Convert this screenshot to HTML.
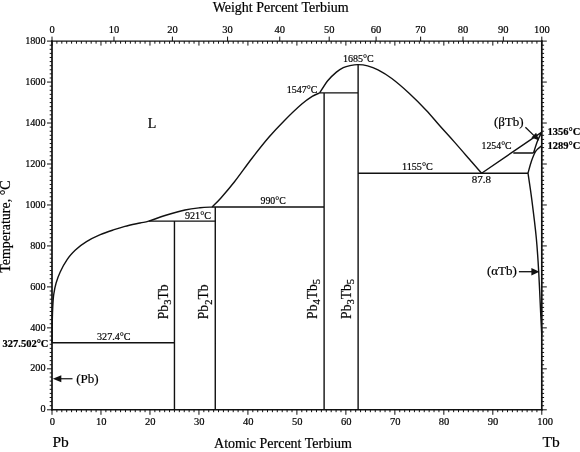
<!DOCTYPE html><html><head><meta charset="utf-8"><title>Pb-Tb Phase Diagram</title>
<style>html,body{margin:0;padding:0;background:#fff}body{width:580px;height:452px;overflow:hidden}svg{display:block}text{font-family:"Liberation Serif","DejaVu Serif",serif;fill:#000;stroke:#000;stroke-width:0.2px}</style></head><body>
<svg width="580" height="452" viewBox="0 0 580 452">
<rect width="580" height="452" fill="#fff"/>
<path d="M52.0 40.5V410.5M541.8 40.5V410.5" fill="none" stroke="#111" stroke-width="1.7"/>
<path d="M51.2 41.1H542.5999999999999" fill="none" stroke="#111" stroke-width="1.2"/>
<path d="M51.2 409.8H542.5999999999999" fill="none" stroke="#111" stroke-width="1.4"/>
<path d="M52.00 409.8v5 M52.00 41.1v4.5 M56.90 409.8v2.4 M56.90 41.1v2.6 M61.80 409.8v2.4 M61.80 41.1v2.6 M66.69 409.8v2.4 M66.69 41.1v2.6 M71.59 409.8v2.4 M71.59 41.1v2.6 M76.49 409.8v2.4 M76.49 41.1v2.6 M81.39 409.8v2.4 M81.39 41.1v2.6 M86.29 409.8v2.4 M86.29 41.1v2.6 M91.18 409.8v2.4 M91.18 41.1v2.6 M96.08 409.8v2.4 M96.08 41.1v2.6 M100.98 409.8v5 M100.98 41.1v4.5 M105.88 409.8v2.4 M105.88 41.1v2.6 M110.78 409.8v2.4 M110.78 41.1v2.6 M115.67 409.8v2.4 M115.67 41.1v2.6 M120.57 409.8v2.4 M120.57 41.1v2.6 M125.47 409.8v2.4 M125.47 41.1v2.6 M130.37 409.8v2.4 M130.37 41.1v2.6 M135.27 409.8v2.4 M135.27 41.1v2.6 M140.16 409.8v2.4 M140.16 41.1v2.6 M145.06 409.8v2.4 M145.06 41.1v2.6 M149.96 409.8v5 M149.96 41.1v4.5 M154.86 409.8v2.4 M154.86 41.1v2.6 M159.76 409.8v2.4 M159.76 41.1v2.6 M164.65 409.8v2.4 M164.65 41.1v2.6 M169.55 409.8v2.4 M169.55 41.1v2.6 M174.45 409.8v2.4 M174.45 41.1v2.6 M179.35 409.8v2.4 M179.35 41.1v2.6 M184.25 409.8v2.4 M184.25 41.1v2.6 M189.14 409.8v2.4 M189.14 41.1v2.6 M194.04 409.8v2.4 M194.04 41.1v2.6 M198.94 409.8v5 M198.94 41.1v4.5 M203.84 409.8v2.4 M203.84 41.1v2.6 M208.74 409.8v2.4 M208.74 41.1v2.6 M213.63 409.8v2.4 M213.63 41.1v2.6 M218.53 409.8v2.4 M218.53 41.1v2.6 M223.43 409.8v2.4 M223.43 41.1v2.6 M228.33 409.8v2.4 M228.33 41.1v2.6 M233.23 409.8v2.4 M233.23 41.1v2.6 M238.12 409.8v2.4 M238.12 41.1v2.6 M243.02 409.8v2.4 M243.02 41.1v2.6 M247.92 409.8v5 M247.92 41.1v4.5 M252.82 409.8v2.4 M252.82 41.1v2.6 M257.72 409.8v2.4 M257.72 41.1v2.6 M262.61 409.8v2.4 M262.61 41.1v2.6 M267.51 409.8v2.4 M267.51 41.1v2.6 M272.41 409.8v2.4 M272.41 41.1v2.6 M277.31 409.8v2.4 M277.31 41.1v2.6 M282.21 409.8v2.4 M282.21 41.1v2.6 M287.10 409.8v2.4 M287.10 41.1v2.6 M292.00 409.8v2.4 M292.00 41.1v2.6 M296.90 409.8v5 M296.90 41.1v4.5 M301.80 409.8v2.4 M301.80 41.1v2.6 M306.70 409.8v2.4 M306.70 41.1v2.6 M311.59 409.8v2.4 M311.59 41.1v2.6 M316.49 409.8v2.4 M316.49 41.1v2.6 M321.39 409.8v2.4 M321.39 41.1v2.6 M326.29 409.8v2.4 M326.29 41.1v2.6 M331.19 409.8v2.4 M331.19 41.1v2.6 M336.08 409.8v2.4 M336.08 41.1v2.6 M340.98 409.8v2.4 M340.98 41.1v2.6 M345.88 409.8v5 M345.88 41.1v4.5 M350.78 409.8v2.4 M350.78 41.1v2.6 M355.68 409.8v2.4 M355.68 41.1v2.6 M360.57 409.8v2.4 M360.57 41.1v2.6 M365.47 409.8v2.4 M365.47 41.1v2.6 M370.37 409.8v2.4 M370.37 41.1v2.6 M375.27 409.8v2.4 M375.27 41.1v2.6 M380.17 409.8v2.4 M380.17 41.1v2.6 M385.06 409.8v2.4 M385.06 41.1v2.6 M389.96 409.8v2.4 M389.96 41.1v2.6 M394.86 409.8v5 M394.86 41.1v4.5 M399.76 409.8v2.4 M399.76 41.1v2.6 M404.66 409.8v2.4 M404.66 41.1v2.6 M409.55 409.8v2.4 M409.55 41.1v2.6 M414.45 409.8v2.4 M414.45 41.1v2.6 M419.35 409.8v2.4 M419.35 41.1v2.6 M424.25 409.8v2.4 M424.25 41.1v2.6 M429.15 409.8v2.4 M429.15 41.1v2.6 M434.04 409.8v2.4 M434.04 41.1v2.6 M438.94 409.8v2.4 M438.94 41.1v2.6 M443.84 409.8v5 M443.84 41.1v4.5 M448.74 409.8v2.4 M448.74 41.1v2.6 M453.64 409.8v2.4 M453.64 41.1v2.6 M458.53 409.8v2.4 M458.53 41.1v2.6 M463.43 409.8v2.4 M463.43 41.1v2.6 M468.33 409.8v2.4 M468.33 41.1v2.6 M473.23 409.8v2.4 M473.23 41.1v2.6 M478.13 409.8v2.4 M478.13 41.1v2.6 M483.02 409.8v2.4 M483.02 41.1v2.6 M487.92 409.8v2.4 M487.92 41.1v2.6 M492.82 409.8v5 M492.82 41.1v4.5 M497.72 409.8v2.4 M497.72 41.1v2.6 M502.62 409.8v2.4 M502.62 41.1v2.6 M507.51 409.8v2.4 M507.51 41.1v2.6 M512.41 409.8v2.4 M512.41 41.1v2.6 M517.31 409.8v2.4 M517.31 41.1v2.6 M522.21 409.8v2.4 M522.21 41.1v2.6 M527.11 409.8v2.4 M527.11 41.1v2.6 M532.00 409.8v2.4 M532.00 41.1v2.6 M536.90 409.8v2.4 M536.90 41.1v2.6 M541.80 409.8v5 M541.80 41.1v4.5 M52.00 41.1v-4.5 M113.98 41.1v-4.5 M172.40 41.1v-4.5 M227.57 41.1v-4.5 M279.76 41.1v-4.5 M329.19 41.1v-4.5 M376.08 41.1v-4.5 M420.63 41.1v-4.5 M462.99 41.1v-4.5 M503.34 41.1v-4.5 M541.80 41.1v-4.5 M52.0 409.80h-5 M541.8 409.80h5 M52.0 405.70h-2.3 M541.8 405.70h2.3 M52.0 401.61h-2.3 M541.8 401.61h2.3 M52.0 397.51h-2.3 M541.8 397.51h2.3 M52.0 393.41h-2.3 M541.8 393.41h2.3 M52.0 389.32h-2.3 M541.8 389.32h2.3 M52.0 385.22h-2.3 M541.8 385.22h2.3 M52.0 381.12h-2.3 M541.8 381.12h2.3 M52.0 377.03h-2.3 M541.8 377.03h2.3 M52.0 372.93h-2.3 M541.8 372.93h2.3 M52.0 368.83h-5 M541.8 368.83h5 M52.0 364.74h-2.3 M541.8 364.74h2.3 M52.0 360.64h-2.3 M541.8 360.64h2.3 M52.0 356.54h-2.3 M541.8 356.54h2.3 M52.0 352.45h-2.3 M541.8 352.45h2.3 M52.0 348.35h-2.3 M541.8 348.35h2.3 M52.0 344.25h-2.3 M541.8 344.25h2.3 M52.0 340.16h-2.3 M541.8 340.16h2.3 M52.0 336.06h-2.3 M541.8 336.06h2.3 M52.0 331.96h-2.3 M541.8 331.96h2.3 M52.0 327.87h-5 M541.8 327.87h5 M52.0 323.77h-2.3 M541.8 323.77h2.3 M52.0 319.67h-2.3 M541.8 319.67h2.3 M52.0 315.58h-2.3 M541.8 315.58h2.3 M52.0 311.48h-2.3 M541.8 311.48h2.3 M52.0 307.38h-2.3 M541.8 307.38h2.3 M52.0 303.29h-2.3 M541.8 303.29h2.3 M52.0 299.19h-2.3 M541.8 299.19h2.3 M52.0 295.09h-2.3 M541.8 295.09h2.3 M52.0 291.00h-2.3 M541.8 291.00h2.3 M52.0 286.90h-5 M541.8 286.90h5 M52.0 282.80h-2.3 M541.8 282.80h2.3 M52.0 278.71h-2.3 M541.8 278.71h2.3 M52.0 274.61h-2.3 M541.8 274.61h2.3 M52.0 270.51h-2.3 M541.8 270.51h2.3 M52.0 266.42h-2.3 M541.8 266.42h2.3 M52.0 262.32h-2.3 M541.8 262.32h2.3 M52.0 258.22h-2.3 M541.8 258.22h2.3 M52.0 254.13h-2.3 M541.8 254.13h2.3 M52.0 250.03h-2.3 M541.8 250.03h2.3 M52.0 245.93h-5 M541.8 245.93h5 M52.0 241.84h-2.3 M541.8 241.84h2.3 M52.0 237.74h-2.3 M541.8 237.74h2.3 M52.0 233.64h-2.3 M541.8 233.64h2.3 M52.0 229.55h-2.3 M541.8 229.55h2.3 M52.0 225.45h-2.3 M541.8 225.45h2.3 M52.0 221.35h-2.3 M541.8 221.35h2.3 M52.0 217.26h-2.3 M541.8 217.26h2.3 M52.0 213.16h-2.3 M541.8 213.16h2.3 M52.0 209.06h-2.3 M541.8 209.06h2.3 M52.0 204.97h-5 M541.8 204.97h5 M52.0 200.87h-2.3 M541.8 200.87h2.3 M52.0 196.77h-2.3 M541.8 196.77h2.3 M52.0 192.68h-2.3 M541.8 192.68h2.3 M52.0 188.58h-2.3 M541.8 188.58h2.3 M52.0 184.48h-2.3 M541.8 184.48h2.3 M52.0 180.39h-2.3 M541.8 180.39h2.3 M52.0 176.29h-2.3 M541.8 176.29h2.3 M52.0 172.19h-2.3 M541.8 172.19h2.3 M52.0 168.10h-2.3 M541.8 168.10h2.3 M52.0 164.00h-5 M541.8 164.00h5 M52.0 159.90h-2.3 M541.8 159.90h2.3 M52.0 155.81h-2.3 M541.8 155.81h2.3 M52.0 151.71h-2.3 M541.8 151.71h2.3 M52.0 147.61h-2.3 M541.8 147.61h2.3 M52.0 143.52h-2.3 M541.8 143.52h2.3 M52.0 139.42h-2.3 M541.8 139.42h2.3 M52.0 135.32h-2.3 M541.8 135.32h2.3 M52.0 131.23h-2.3 M541.8 131.23h2.3 M52.0 127.13h-2.3 M541.8 127.13h2.3 M52.0 123.03h-5 M541.8 123.03h5 M52.0 118.94h-2.3 M541.8 118.94h2.3 M52.0 114.84h-2.3 M541.8 114.84h2.3 M52.0 110.74h-2.3 M541.8 110.74h2.3 M52.0 106.65h-2.3 M541.8 106.65h2.3 M52.0 102.55h-2.3 M541.8 102.55h2.3 M52.0 98.45h-2.3 M541.8 98.45h2.3 M52.0 94.36h-2.3 M541.8 94.36h2.3 M52.0 90.26h-2.3 M541.8 90.26h2.3 M52.0 86.16h-2.3 M541.8 86.16h2.3 M52.0 82.07h-5 M541.8 82.07h5 M52.0 77.97h-2.3 M541.8 77.97h2.3 M52.0 73.87h-2.3 M541.8 73.87h2.3 M52.0 69.78h-2.3 M541.8 69.78h2.3 M52.0 65.68h-2.3 M541.8 65.68h2.3 M52.0 61.58h-2.3 M541.8 61.58h2.3 M52.0 57.49h-2.3 M541.8 57.49h2.3 M52.0 53.39h-2.3 M541.8 53.39h2.3 M52.0 49.29h-2.3 M541.8 49.29h2.3 M52.0 45.20h-2.3 M541.8 45.20h2.3 M52.0 41.10h-5 M541.8 41.10h5" stroke="#111" stroke-width="1" fill="none"/>
<g font-size="10.5" text-anchor="middle">
<text x="52.3" y="425">0</text>
<text x="101.3" y="425">10</text>
<text x="150.3" y="425">20</text>
<text x="199.2" y="425">30</text>
<text x="248.2" y="425">40</text>
<text x="297.2" y="425">50</text>
<text x="346.2" y="425">60</text>
<text x="395.2" y="425">70</text>
<text x="444.1" y="425">80</text>
<text x="493.1" y="425">90</text>
<text x="545.0" y="425">100</text>
<text x="52.0" y="33.0">0</text>
<text x="114.0" y="33.0">10</text>
<text x="172.4" y="33.0">20</text>
<text x="227.6" y="33.0">30</text>
<text x="279.8" y="33.0">40</text>
<text x="329.2" y="33.0">50</text>
<text x="376.1" y="33.0">60</text>
<text x="420.6" y="33.0">70</text>
<text x="463.0" y="33.0">80</text>
<text x="503.3" y="33.0">90</text>
<text x="541.8" y="33.0">100</text>
</g>
<g font-size="10.2" text-anchor="end">
<text x="45.5" y="412.4">0</text>
<text x="45.5" y="371.4">200</text>
<text x="45.5" y="330.5">400</text>
<text x="45.5" y="289.5">600</text>
<text x="45.5" y="248.5">800</text>
<text x="45.5" y="207.6">1000</text>
<text x="45.5" y="166.6">1200</text>
<text x="45.5" y="125.6">1400</text>
<text x="45.5" y="84.7">1600</text>
<text x="45.5" y="43.7">1800</text>
</g>
<text x="280.7" y="12.4" font-size="14" text-anchor="middle">Weight Percent Terbium</text>
<text x="283" y="447.5" font-size="14" text-anchor="middle">Atomic Percent Terbium</text>
<text transform="translate(10.4,226.6) rotate(-90)" font-size="14" text-anchor="middle">Temperature, °C</text>
<text x="52.5" y="447.3" font-size="15.5">Pb</text>
<text x="542.6" y="447.2" font-size="15.5">Tb</text>
<path d="M52.00 342.74 L174.45 342.74 M174.45 409.80 L174.45 221.15 M148.75 221.15 L215.27 221.15 M215.27 409.80 L215.27 207.02 M212.00 207.02 L324.11 207.02 M324.11 409.80 L324.11 92.92 M319.70 92.92 L358.12 92.92 M358.12 409.80 L358.12 64.66 M358.12 173.22 L528.00 173.22 M513.30 152.94 L533.50 152.94" stroke="#111" stroke-width="1.4" fill="none"/>
<path d="M52.00 342.74 C52.05 338.95 52.17 326.12 52.30 320.00 C52.43 313.88 52.55 310.33 52.80 306.00 C53.05 301.67 53.25 297.83 53.80 294.00 C54.35 290.17 55.03 286.67 56.10 283.00 C57.17 279.33 58.37 275.90 60.20 272.00 C62.03 268.10 64.57 263.28 67.10 259.60 C69.63 255.92 72.17 252.90 75.40 249.90 C78.63 246.90 82.35 244.13 86.50 241.60 C90.65 239.07 95.70 236.68 100.30 234.70 C104.90 232.72 110.00 231.08 114.10 229.70 C118.20 228.32 120.58 227.52 124.90 226.40 C129.22 225.28 136.03 223.88 140.00 223.00 C143.97 222.12 144.58 222.40 148.75 221.15 C152.92 219.90 158.96 217.36 165.00 215.50 C171.04 213.64 179.17 211.29 185.00 210.00 C190.83 208.71 195.50 208.25 200.00 207.75 C204.50 207.25 210.00 207.14 212.00 207.02 M212.00 207.02 C213.45 205.55 216.95 202.40 220.70 198.20 C224.45 194.00 229.32 188.42 234.50 181.80 C239.68 175.18 246.12 165.88 251.80 158.50 C257.48 151.12 263.15 143.85 268.60 137.50 C274.05 131.15 278.97 125.98 284.50 120.40 C290.03 114.82 297.18 108.02 301.80 104.00 C306.42 99.98 309.22 98.15 312.20 96.30 C315.18 94.45 318.45 93.49 319.70 92.92 M319.70 92.92 C321.03 90.89 324.92 84.17 327.70 80.70 C330.48 77.23 333.80 74.28 336.40 72.10 C339.00 69.92 341.03 68.68 343.30 67.60 C345.57 66.52 347.53 66.09 350.00 65.60 C352.47 65.11 355.17 64.61 358.10 64.66 C361.03 64.71 364.28 65.03 367.60 65.90 C370.92 66.77 373.97 67.80 378.00 69.90 C382.03 72.00 386.62 74.62 391.80 78.50 C396.98 82.38 403.33 87.88 409.10 93.20 C414.87 98.52 421.25 104.93 426.40 110.40 C431.55 115.87 435.32 120.72 440.00 126.00 C444.68 131.28 449.20 136.10 454.50 142.10 C459.80 148.10 467.28 156.81 471.80 162.00 C476.32 167.19 479.97 171.35 481.60 173.22 M481.60 173.22 L541.80 132.05 M541.80 132.05 C541.08 133.54 538.88 137.52 537.50 141.00 C536.12 144.48 534.17 150.95 533.50 152.94 M541.80 145.77 C540.80 146.66 537.52 148.56 535.80 151.10 C534.08 153.64 532.80 157.31 531.50 161.00 C530.20 164.69 528.58 171.18 528.00 173.22 M528.00 173.22 C528.63 177.63 530.42 188.90 531.80 199.70 C533.18 210.50 535.15 226.00 536.30 238.00 C537.45 250.00 537.95 258.70 538.70 271.70 C539.45 284.70 540.28 305.45 540.80 316.00 C541.32 326.55 541.63 331.83 541.80 335.00" stroke="#111" stroke-width="1.4" fill="none" stroke-linejoin="round"/>
<path d="M72.5 378.75H58" stroke="#111" stroke-width="1.2" fill="none"/><path d="M52.8 378.75l8.5 -3.4v6.8z" fill="#111"/>
<path d="M518.9 271.7H533" stroke="#111" stroke-width="1.3" fill="none"/><path d="M539.4 271.7l-8 -3.7v7.4z" fill="#111"/>
<path d="M525.4 127.2L534 135.6" stroke="#111" stroke-width="1.3" fill="none"/><path d="M539.2 140.5L531.4 137.4L536.1 132.7z" fill="#111"/>
<g font-size="11">
<text x="185" y="218.5" textLength="26" lengthAdjust="spacingAndGlyphs">921°C</text>
<text x="260.5" y="203.75" textLength="25.2" lengthAdjust="spacingAndGlyphs">990°C</text>
<text x="343" y="62" textLength="30.8" lengthAdjust="spacingAndGlyphs">1685°C</text>
<text x="286.75" y="92.5" textLength="30.8" lengthAdjust="spacingAndGlyphs">1547°C</text>
<text x="481.6" y="149.2" textLength="30" lengthAdjust="spacingAndGlyphs">1254°C</text>
<text x="402" y="169.5" textLength="30.8" lengthAdjust="spacingAndGlyphs">1155°C</text>
<text x="471.8" y="183">87.8</text>
<text x="97" y="340" textLength="33.6" lengthAdjust="spacingAndGlyphs">327.4°C</text>
</g>
<g font-size="10.5" font-weight="bold">
<text x="2.5" y="347">327.502°C</text>
<text x="547.5" y="134.8">1356°C</text>
<text x="547.5" y="148.8">1289°C</text>
</g>
<g font-size="13">
<text x="147.8" y="127.8" font-size="14">L</text>
<text x="76.25" y="382.5">(Pb)</text>
<text x="493.9" y="125.5">(βTb)</text>
<text x="486.9" y="275.1">(αTb)</text>
<text font-size="13.6" transform="translate(167.5,319.2) rotate(-90)">Pb<tspan font-size="10.5" dy="3.4">3</tspan><tspan dy="-3.4" font-size="13.6">&#8203;</tspan>Tb</text>
<text font-size="13.6" transform="translate(208.4,319.2) rotate(-90)">Pb<tspan font-size="10.5" dy="3.4">2</tspan><tspan dy="-3.4" font-size="13.6">&#8203;</tspan>Tb</text>
<text font-size="13.6" transform="translate(316.9,318.9) rotate(-90)">Pb<tspan font-size="10.5" dy="3.4">4</tspan><tspan dy="-3.4" font-size="13.6">&#8203;</tspan>Tb<tspan font-size="10.5" dy="3.4">5</tspan><tspan dy="-3.4" font-size="13.6">&#8203;</tspan></text>
<text font-size="13.6" transform="translate(350.7,318.9) rotate(-90)">Pb<tspan font-size="10.5" dy="3.4">3</tspan><tspan dy="-3.4" font-size="13.6">&#8203;</tspan>Tb<tspan font-size="10.5" dy="3.4">5</tspan><tspan dy="-3.4" font-size="13.6">&#8203;</tspan></text>
</g>
</svg></body></html>
